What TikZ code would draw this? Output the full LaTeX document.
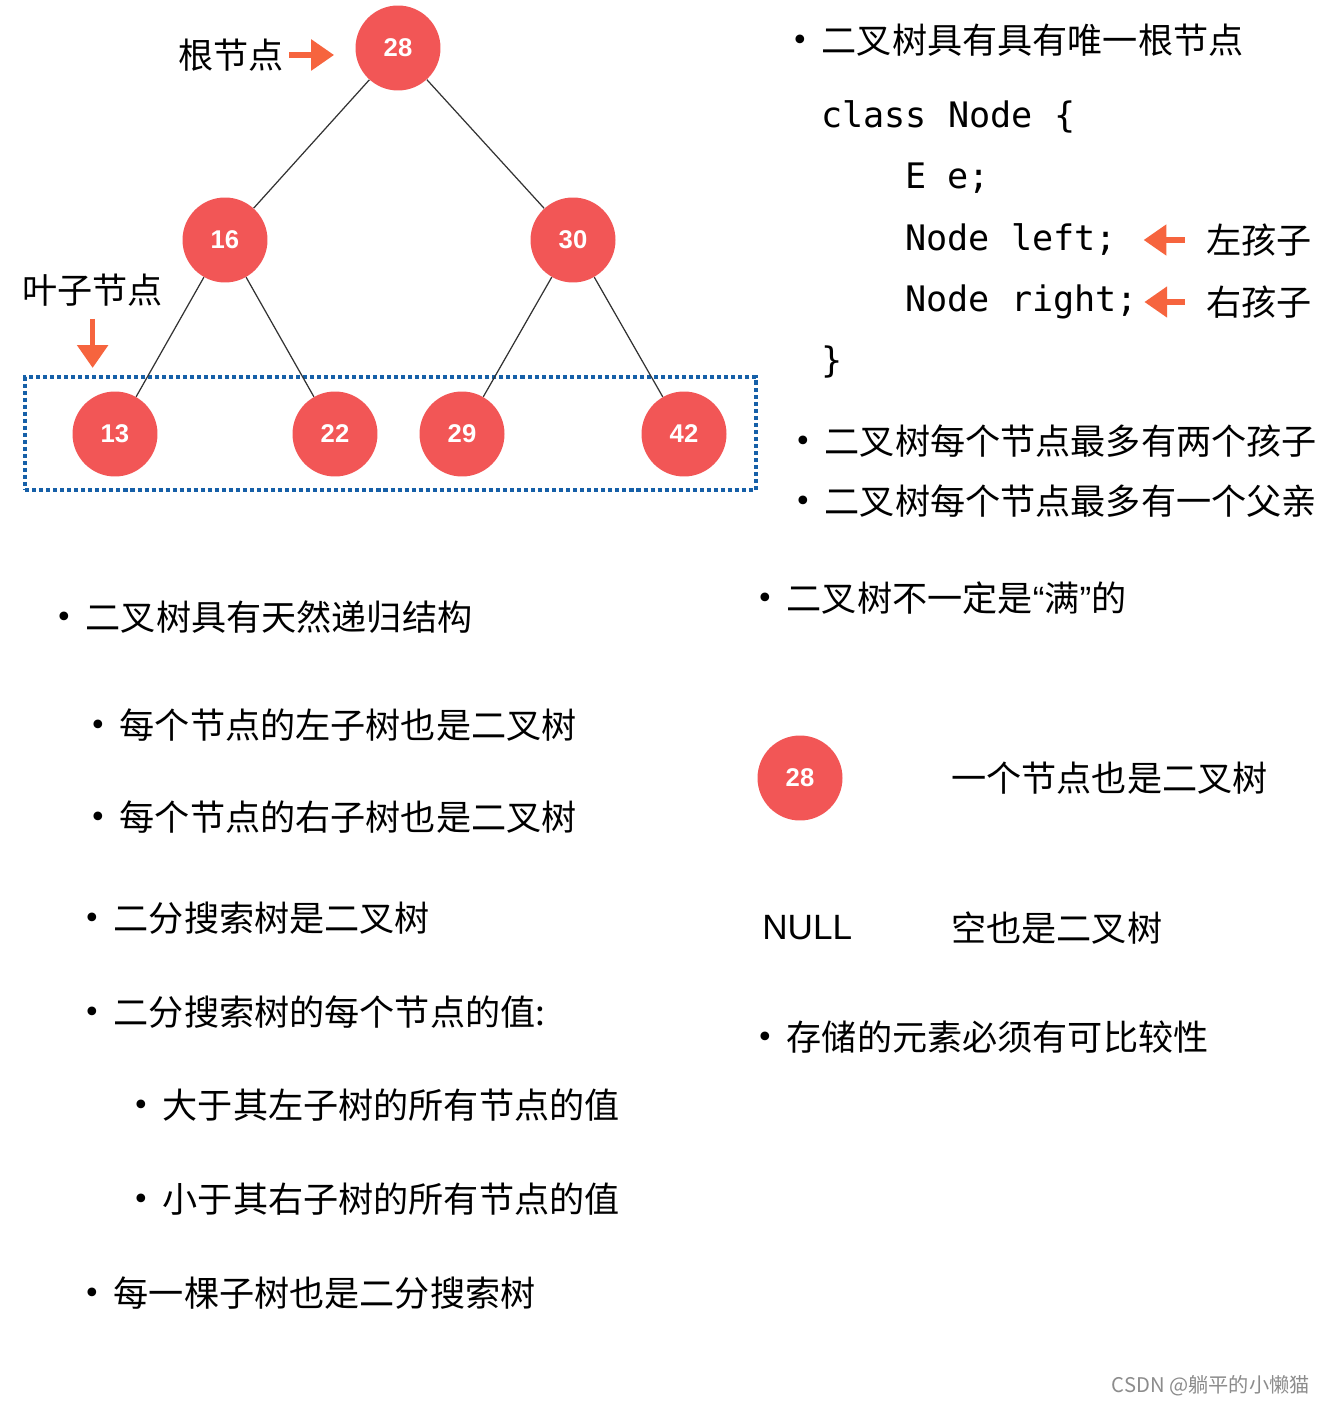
\documentclass[tikz,border=0pt]{standalone}
\usepackage{fontspec}
\setmainfont{Noto Sans CJK SC}
\setmonofont{DejaVu Sans Mono}
\newfontfamily\numfont{Liberation Sans}
\newfontfamily\symfont{DejaVu Sans}
\usetikzlibrary{arrows.meta}
\usetikzlibrary{positioning}

\definecolor{nodered}{RGB}{242,86,86}
\definecolor{handorange}{RGB}{246,100,62}
\definecolor{leafblue}{RGB}{22,96,168}
\definecolor{markgray}{RGB}{140,140,140}

\newcommand{\bigtext}{\fontsize{20}{24}\selectfont}
\newcommand{\blt}{\makebox[14.5pt][l]{\hspace{-3pt}\raisebox{1.5pt}{\symfont\fontsize{17}{17}\selectfont •}}}

\begin{document}
\begin{tikzpicture}[x=0.02cm, y=-0.02cm,
    treenode/.style={circle, fill=nodered, minimum size=1.7cm, inner sep=0pt,
        text=white, font=\numfont\bfseries\fontsize{14.6}{16}\selectfont},
    edge/.style={draw=black!80, line width=0.7pt},
    handarrow/.style={draw=handorange, line width=3.2pt,
        -{Triangle[length=13pt, width=17pt]}},
    txt/.style={anchor=west, inner sep=0pt, font=\bigtext},
    code/.style={anchor=west, inner sep=0pt, font=\ttfamily\bigtext},
    leafbox/.style={draw=leafblue, line width=2.3pt, dash pattern=on 2.3pt off 1.7pt,
        minimum width=14.62cm, minimum height=2.26cm, inner sep=0pt}]
    \useasboundingbox[fill=white] (0,0) rectangle (1325,1405);

    % tree
    \node[leafbox] (leafrow) at (390.5,433.5) {};
    \foreach \name/\x/\y in {28/398/48, 16/225/240, 30/573/240,
            13/115/434, 22/335/434, 29/462/434, 42/684/434} {
        \node[treenode] (n\name) at (\x,\y) {\name};
    }
    \foreach \a/\b in {28/16, 28/30, 16/13, 16/22, 30/29, 30/42} {
        \draw[edge] (n\a) -- (n\b);
    }

    % labels of the tree
    \node[txt] (rootlabel) at (178,55) {根节点};
    \draw[handarrow, shorten <=3pt, shorten >=12pt] (rootlabel.east) -- (rootlabel.east -| n28.west);
    \node[txt] (leaflabel) at (22,290) {叶子节点};
    \draw[handarrow, shorten <=7pt, shorten >=4pt] (leaflabel.south) -- (leaflabel.south |- leafrow.north);

    % class Node
    \node[txt] (rootonly) at (796,40) {\blt 二叉树具有具有唯一根节点};
    \node[code] (codeclass) at (821,117) {class Node \{};
    \node[code] (codeelem) at (905,178) {E e;};
    \node[code] (codeleft) at (905,240) {Node left;};
    \node[code] (coderight) at (905,302) {Node right;};
    \node[code] (codeend) at (821,362) {\}};
    \node[txt] (lchild) at (1206,240) {左孩子};
    \node[txt] (rchild) at (1206,302) {右孩子};
    \draw[handarrow, shorten <=12pt, shorten >=15pt] (lchild.west) -- (lchild.west -| codeleft.east);
    \draw[handarrow, shorten <=12pt, shorten >=3.4pt] (rchild.west) -- (rchild.west -| coderight.east);

    % right column
    \node[txt] (twochild) at (799,441) {\blt 二叉树每个节点最多有两个孩子};
    \node[txt] (oneparent) at (799,501) {\blt 二叉树每个节点最多有一个父亲};
    \node[txt] (notfull) at (761,598) {\blt 二叉树不一定是{\numfont “}满{\numfont ”}的};
    \node[treenode] (single) at (800,778) {28};
    \node[txt] (singletext) at (951,778) {一个节点也是二叉树};
    \node[txt, font=\numfont\bigtext] (null) at (762,928) {NULL};
    \node[txt] (nulltext) at (951,928) {空也是二叉树};
    \node[txt] (compare) at (761,1037) {\blt 存储的元素必须有可比较性};

    % left column
    \node[txt] (recursive) at (60,617) {\blt 二叉树具有天然递归结构};
    \node[txt] (lefttree) at (94,725) {\blt 每个节点的左子树也是二叉树};
    \node[txt] (righttree) at (94,817) {\blt 每个节点的右子树也是二叉树};
    \node[txt] (bstis) at (88,918) {\blt 二分搜索树是二叉树};
    \node[txt] (bstval) at (88,1012) {\blt 二分搜索树的每个节点的值:};
    \node[txt] (greater) at (137,1105) {\blt 大于其左子树的所有节点的值};
    \node[txt] (less) at (137,1199) {\blt 小于其右子树的所有节点的值};
    \node[txt] (subtree) at (88,1293) {\blt 每一棵子树也是二分搜索树};

    \node[anchor=east, inner sep=0pt, text=markgray, font=\fontsize{11.5}{13}\selectfont]
        (mark) at (1310,1386) {CSDN @躺平的小懒猫};
\end{tikzpicture}
\end{document}
